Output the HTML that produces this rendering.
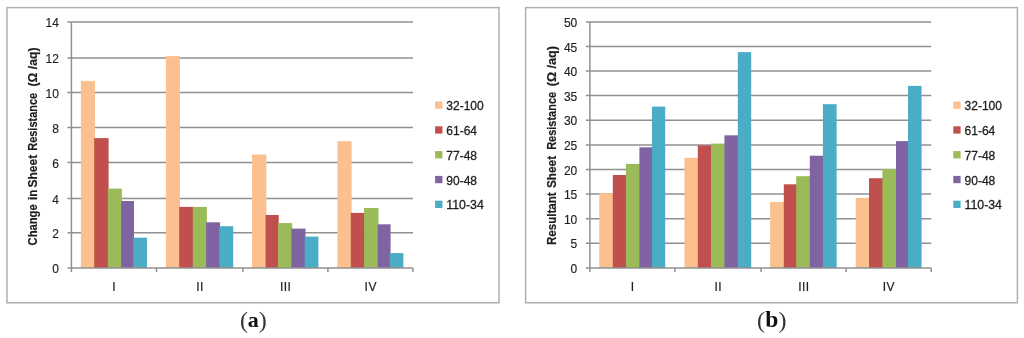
<!DOCTYPE html>
<html><head><meta charset="utf-8"><style>
html,body{margin:0;padding:0;background:#fff;width:1024px;height:338px;overflow:hidden}
svg{display:block}
.tk{font-family:"Liberation Sans",Arial,sans-serif;font-size:12px;fill:#1e1e1e;stroke:#1e1e1e;stroke-width:0.15px}
.ct{font-family:"Liberation Sans",Arial,sans-serif;font-size:12px;fill:#1e1e1e;stroke:#1e1e1e;stroke-width:0.2px;letter-spacing:0.5px}
.lg{font-family:"Liberation Sans",Arial,sans-serif;font-size:12.6px;fill:#1e1e1e;stroke:#1e1e1e;stroke-width:0.3px}
.tt{font-family:"Liberation Sans",Arial,sans-serif;font-size:12.3px;font-weight:bold;fill:#1e1e1e;stroke:#1e1e1e;stroke-width:0.2px}
.cap{font-family:"Liberation Serif","Times New Roman",serif;font-size:22px;fill:#111}
</style></head><body>
<svg width="1024" height="338" viewBox="0 0 1024 338">
<rect width="1024" height="338" fill="#fff"/>
<rect x="7" y="7.6" width="492.00" height="295.20" fill="#fff" stroke="#b0b0b0" stroke-width="1.5"/>
<text x="58.9" y="273.10" class="tk" text-anchor="end">0</text>
<line x1="67.4" y1="232.8" x2="413.0" y2="232.8" stroke="#909090" stroke-width="1.5"/>
<text x="58.9" y="237.90" class="tk" text-anchor="end">2</text>
<line x1="67.4" y1="198.4" x2="413.0" y2="198.4" stroke="#909090" stroke-width="1.5"/>
<text x="58.9" y="203.50" class="tk" text-anchor="end">4</text>
<line x1="67.4" y1="162.4" x2="413.0" y2="162.4" stroke="#909090" stroke-width="1.5"/>
<text x="58.9" y="167.50" class="tk" text-anchor="end">6</text>
<line x1="67.4" y1="127.4" x2="413.0" y2="127.4" stroke="#909090" stroke-width="1.5"/>
<text x="58.9" y="132.50" class="tk" text-anchor="end">8</text>
<line x1="67.4" y1="92.5" x2="413.0" y2="92.5" stroke="#909090" stroke-width="1.5"/>
<text x="58.9" y="97.60" class="tk" text-anchor="end">10</text>
<line x1="67.4" y1="57.9" x2="413.0" y2="57.9" stroke="#909090" stroke-width="1.5"/>
<text x="58.9" y="63.00" class="tk" text-anchor="end">12</text>
<line x1="67.4" y1="21.9" x2="413.0" y2="21.9" stroke="#909090" stroke-width="1.5"/>
<text x="58.9" y="27.00" class="tk" text-anchor="end">14</text>
<rect x="80.9" y="80.9" width="14.10" height="187.10" fill="#FAC090"/>
<rect x="94.2" y="138.1" width="14.40" height="129.90" fill="#C0504D"/>
<rect x="107.8" y="188.6" width="14.10" height="79.40" fill="#9BBB59"/>
<rect x="121.1" y="201.0" width="12.90" height="67.00" fill="#8064A2"/>
<rect x="133.2" y="237.7" width="13.80" height="30.30" fill="#4BACC6"/>
<text x="114.25" y="291" class="ct" text-anchor="middle">I</text>
<rect x="165.9" y="56.1" width="14.10" height="211.90" fill="#FAC090"/>
<rect x="179.2" y="206.9" width="14.40" height="61.10" fill="#C0504D"/>
<rect x="192.8" y="206.9" width="14.10" height="61.10" fill="#9BBB59"/>
<rect x="206.1" y="222.3" width="14.00" height="45.70" fill="#8064A2"/>
<rect x="219.3" y="226.2" width="13.90" height="41.80" fill="#4BACC6"/>
<text x="200.00" y="291" class="ct" text-anchor="middle">II</text>
<rect x="252.0" y="154.5" width="14.40" height="113.50" fill="#FAC090"/>
<rect x="265.6" y="215.0" width="13.10" height="53.00" fill="#C0504D"/>
<rect x="277.9" y="223.1" width="14.30" height="44.90" fill="#9BBB59"/>
<rect x="291.4" y="228.6" width="14.10" height="39.40" fill="#8064A2"/>
<rect x="304.7" y="236.6" width="13.70" height="31.40" fill="#4BACC6"/>
<text x="285.70" y="291" class="ct" text-anchor="middle">III</text>
<rect x="337.4" y="141.1" width="14.20" height="126.90" fill="#FAC090"/>
<rect x="350.8" y="212.9" width="14.10" height="55.10" fill="#C0504D"/>
<rect x="364.1" y="208.0" width="14.40" height="60.00" fill="#9BBB59"/>
<rect x="377.7" y="224.3" width="12.90" height="43.70" fill="#8064A2"/>
<rect x="389.8" y="253.1" width="13.60" height="14.90" fill="#4BACC6"/>
<text x="370.75" y="291" class="ct" text-anchor="middle">IV</text>
<line x1="71.4" y1="21.9" x2="71.4" y2="272.0" stroke="#909090" stroke-width="1.5"/>
<line x1="67.4" y1="268.0" x2="413.0" y2="268.0" stroke="#909090" stroke-width="1.5"/>
<line x1="156.5" y1="268.0" x2="156.5" y2="272.0" stroke="#909090" stroke-width="1.5"/>
<line x1="242.9" y1="268.0" x2="242.9" y2="272.0" stroke="#909090" stroke-width="1.5"/>
<line x1="327.9" y1="268.0" x2="327.9" y2="272.0" stroke="#909090" stroke-width="1.5"/>
<line x1="413.0" y1="268.0" x2="413.0" y2="272.0" stroke="#909090" stroke-width="1.5"/>
<rect x="435.1" y="101.50" width="7.3" height="7.3" fill="#FAC090"/>
<text x="446.30" y="110.10" class="lg" textLength="37.46" lengthAdjust="spacingAndGlyphs">32-100</text>
<rect x="435.1" y="126.30" width="7.3" height="7.3" fill="#C0504D"/>
<text x="446.30" y="134.90" class="lg" textLength="30.77" lengthAdjust="spacingAndGlyphs">61-64</text>
<rect x="435.1" y="151.10" width="7.3" height="7.3" fill="#9BBB59"/>
<text x="446.30" y="159.70" class="lg" textLength="30.77" lengthAdjust="spacingAndGlyphs">77-48</text>
<rect x="435.1" y="175.90" width="7.3" height="7.3" fill="#8064A2"/>
<text x="446.30" y="184.50" class="lg" textLength="30.77" lengthAdjust="spacingAndGlyphs">90-48</text>
<rect x="435.1" y="200.70" width="7.3" height="7.3" fill="#4BACC6"/>
<text x="446.30" y="209.30" class="lg" textLength="37.46" lengthAdjust="spacingAndGlyphs">110-34</text>
<text transform="translate(37.3,245) rotate(-90)" x="-0.46" y="0" class="tt" textLength="41.07" lengthAdjust="spacingAndGlyphs">Change</text>
<text transform="translate(37.3,199.2) rotate(-90)" x="-0.70" y="0" class="tt" textLength="10.25" lengthAdjust="spacingAndGlyphs">in</text>
<text transform="translate(37.3,187) rotate(-90)" x="-0.49" y="0" class="tt" textLength="32.73" lengthAdjust="spacingAndGlyphs">Sheet</text>
<text transform="translate(37.3,150.1) rotate(-90)" x="-0.67" y="0" class="tt" textLength="57.86" lengthAdjust="spacingAndGlyphs">Resistance</text>
<text transform="translate(37.3,86) rotate(-90)" x="-0.50" y="0" class="tt" textLength="38.97" lengthAdjust="spacingAndGlyphs">(Ω /aq)</text>
<text x="239.9" y="327.6" class="cap" style="font-size:24px;fill:#333">(</text>
<text x="247.8" y="327.3" class="cap" style="font-size:22px;font-weight:bold">a</text>
<text x="258.8" y="327.6" class="cap" style="font-size:24px;fill:#333">)</text>
<rect x="525.6" y="7.6" width="491.80" height="295.20" fill="#fff" stroke="#b0b0b0" stroke-width="1.5"/>
<text x="577.3" y="273.10" class="tk" text-anchor="end">0</text>
<line x1="585.9" y1="243.3" x2="931.2" y2="243.3" stroke="#909090" stroke-width="1.5"/>
<text x="577.3" y="248.40" class="tk" text-anchor="end">5</text>
<line x1="585.9" y1="218.8" x2="931.2" y2="218.8" stroke="#909090" stroke-width="1.5"/>
<text x="577.3" y="223.90" class="tk" text-anchor="end">10</text>
<line x1="585.9" y1="193.9" x2="931.2" y2="193.9" stroke="#909090" stroke-width="1.5"/>
<text x="577.3" y="199.00" class="tk" text-anchor="end">15</text>
<line x1="585.9" y1="169.5" x2="931.2" y2="169.5" stroke="#909090" stroke-width="1.5"/>
<text x="577.3" y="174.60" class="tk" text-anchor="end">20</text>
<line x1="585.9" y1="144.9" x2="931.2" y2="144.9" stroke="#909090" stroke-width="1.5"/>
<text x="577.3" y="150.00" class="tk" text-anchor="end">25</text>
<line x1="585.9" y1="120.3" x2="931.2" y2="120.3" stroke="#909090" stroke-width="1.5"/>
<text x="577.3" y="125.40" class="tk" text-anchor="end">30</text>
<line x1="585.9" y1="95.6" x2="931.2" y2="95.6" stroke="#909090" stroke-width="1.5"/>
<text x="577.3" y="100.70" class="tk" text-anchor="end">35</text>
<line x1="585.9" y1="71.0" x2="931.2" y2="71.0" stroke="#909090" stroke-width="1.5"/>
<text x="577.3" y="76.10" class="tk" text-anchor="end">40</text>
<line x1="585.9" y1="46.5" x2="931.2" y2="46.5" stroke="#909090" stroke-width="1.5"/>
<text x="577.3" y="51.60" class="tk" text-anchor="end">45</text>
<line x1="585.9" y1="21.9" x2="931.2" y2="21.9" stroke="#909090" stroke-width="1.5"/>
<text x="577.3" y="27.00" class="tk" text-anchor="end">50</text>
<rect x="599.3" y="193.3" width="14.30" height="74.70" fill="#FAC090"/>
<rect x="612.8" y="175.0" width="13.90" height="93.00" fill="#C0504D"/>
<rect x="625.9" y="163.9" width="14.30" height="104.10" fill="#9BBB59"/>
<rect x="639.4" y="147.3" width="13.30" height="120.70" fill="#8064A2"/>
<rect x="651.9" y="106.6" width="13.30" height="161.40" fill="#4BACC6"/>
<text x="632.70" y="291" class="ct" text-anchor="middle">I</text>
<rect x="684.5" y="157.8" width="14.10" height="110.20" fill="#FAC090"/>
<rect x="697.8" y="145.4" width="14.00" height="122.60" fill="#C0504D"/>
<rect x="711.0" y="143.6" width="14.20" height="124.40" fill="#9BBB59"/>
<rect x="724.4" y="135.3" width="14.20" height="132.70" fill="#8064A2"/>
<rect x="737.8" y="52.1" width="13.40" height="215.90" fill="#4BACC6"/>
<text x="718.30" y="291" class="ct" text-anchor="middle">II</text>
<rect x="770.1" y="201.9" width="14.50" height="66.10" fill="#FAC090"/>
<rect x="783.8" y="184.3" width="13.20" height="83.70" fill="#C0504D"/>
<rect x="796.2" y="176.2" width="14.40" height="91.80" fill="#9BBB59"/>
<rect x="809.8" y="155.7" width="13.90" height="112.30" fill="#8064A2"/>
<rect x="822.9" y="104.2" width="13.70" height="163.80" fill="#4BACC6"/>
<text x="803.90" y="291" class="ct" text-anchor="middle">III</text>
<rect x="855.7" y="197.9" width="14.10" height="70.10" fill="#FAC090"/>
<rect x="869.0" y="178.2" width="14.20" height="89.80" fill="#C0504D"/>
<rect x="882.4" y="169.0" width="14.40" height="99.00" fill="#9BBB59"/>
<rect x="896.0" y="141.1" width="12.80" height="126.90" fill="#8064A2"/>
<rect x="908.0" y="85.9" width="13.60" height="182.10" fill="#4BACC6"/>
<text x="888.95" y="291" class="ct" text-anchor="middle">IV</text>
<line x1="589.9" y1="21.9" x2="589.9" y2="272.0" stroke="#909090" stroke-width="1.5"/>
<line x1="585.9" y1="268.0" x2="931.2" y2="268.0" stroke="#909090" stroke-width="1.5"/>
<line x1="674.9" y1="268.0" x2="674.9" y2="272.0" stroke="#909090" stroke-width="1.5"/>
<line x1="761.1" y1="268.0" x2="761.1" y2="272.0" stroke="#909090" stroke-width="1.5"/>
<line x1="846.1" y1="268.0" x2="846.1" y2="272.0" stroke="#909090" stroke-width="1.5"/>
<line x1="931.2" y1="268.0" x2="931.2" y2="272.0" stroke="#909090" stroke-width="1.5"/>
<rect x="953.3" y="101.50" width="7.3" height="7.3" fill="#FAC090"/>
<text x="964.50" y="110.10" class="lg" textLength="37.46" lengthAdjust="spacingAndGlyphs">32-100</text>
<rect x="953.3" y="126.30" width="7.3" height="7.3" fill="#C0504D"/>
<text x="964.50" y="134.90" class="lg" textLength="30.77" lengthAdjust="spacingAndGlyphs">61-64</text>
<rect x="953.3" y="151.10" width="7.3" height="7.3" fill="#9BBB59"/>
<text x="964.50" y="159.70" class="lg" textLength="30.77" lengthAdjust="spacingAndGlyphs">77-48</text>
<rect x="953.3" y="175.90" width="7.3" height="7.3" fill="#8064A2"/>
<text x="964.50" y="184.50" class="lg" textLength="30.77" lengthAdjust="spacingAndGlyphs">90-48</text>
<rect x="953.3" y="200.70" width="7.3" height="7.3" fill="#4BACC6"/>
<text x="964.50" y="209.30" class="lg" textLength="37.46" lengthAdjust="spacingAndGlyphs">110-34</text>
<text transform="translate(556.0,244.3) rotate(-90)" x="-0.70" y="0" class="tt" textLength="52.63" lengthAdjust="spacingAndGlyphs">Resultant</text>
<text transform="translate(556.0,187.6) rotate(-90)" x="-0.48" y="0" class="tt" textLength="32.22" lengthAdjust="spacingAndGlyphs">Sheet</text>
<text transform="translate(556.0,149.2) rotate(-90)" x="-0.67" y="0" class="tt" textLength="57.96" lengthAdjust="spacingAndGlyphs">Resistance</text>
<text transform="translate(556.0,85.7) rotate(-90)" x="-0.51" y="0" class="tt" textLength="40.20" lengthAdjust="spacingAndGlyphs">(Ω /aq)</text>
<text x="756.9" y="327.6" class="cap" style="font-size:24px;fill:#333">(</text>
<text x="765.3" y="327.3" class="cap" style="font-size:23.5px;font-weight:bold">b</text>
<text x="778.5" y="327.6" class="cap" style="font-size:24px;fill:#333">)</text>
</svg>
</body></html>
